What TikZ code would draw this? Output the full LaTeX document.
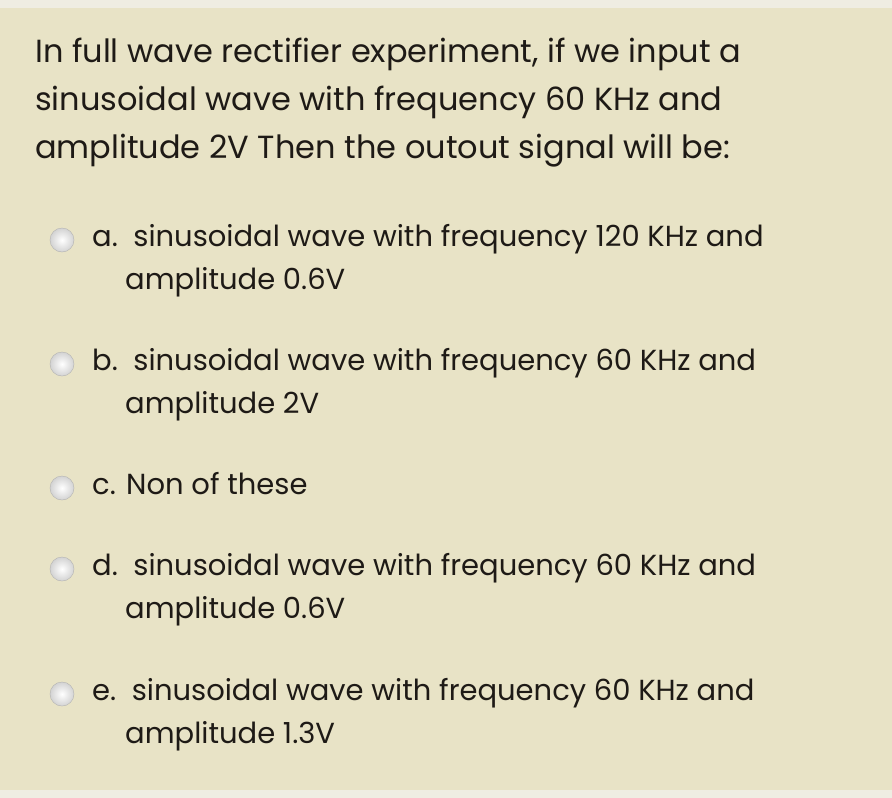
\documentclass[tikz,border=0pt]{standalone}
\usepackage{fontspec}
\setmainfont{Poppins}
\definecolor{bg}{HTML}{E8E3C6}
\definecolor{strip}{HTML}{EFEDE2}
\definecolor{txt}{HTML}{1E1A16}
\tikzset{q/.style={anchor=base west,inner sep=0pt,text=txt,font=\fontsize{32}{36}\selectfont},
opt/.style={anchor=base west,inner sep=0pt,text=txt,font=\fontsize{29}{32}\selectfont},
radio/.style={circle,minimum size=24pt,inner sep=0pt,draw=gray!60,shading=radial,inner color=white,outer color=gray!35}}
\begin{document}
\begin{tikzpicture}[x=1pt,y=-1pt]
\fill[strip] (0,0) rectangle (892,798);
\fill[bg] (0,8) rectangle (892,790);
\useasboundingbox (0,0) rectangle (892,798);
\node[q] (q1) at (35,62) {In full wave rectifier experiment, if we input a};
\node[q] (q2) at (35,110) {sinusoidal wave with frequency 60 KHz and};
\node[q] (q3) at (35,158) {amplitude 2V Then the outout signal will be:};
\node[radio] (ra) at (62,240) {};
\node[opt] (a1) at (92,246) {a.\ \ sinusoidal wave with frequency 120 KHz and};
\node[opt] (a2) at (125,289) {amplitude 0.6V};
\node[radio] (rb) at (62,364) {};
\node[opt] (b1) at (92,370) {b.\ \ sinusoidal wave with frequency 60 KHz and};
\node[opt] (b2) at (125,413) {amplitude 2V};
\node[radio] (rc) at (62,488) {};
\node[opt] (c1) at (92,494) {c. Non of these};
\node[radio] (rd) at (62,569) {};
\node[opt] (d1) at (92,575) {d.\ \ sinusoidal wave with frequency 60 KHz and};
\node[opt] (d2) at (125,618) {amplitude 0.6V};
\node[radio] (re) at (62,694) {};
\node[opt] (e1) at (92,700) {e.\ \ sinusoidal wave with frequency 60 KHz and};
\node[opt] (e2) at (125,743) {amplitude 1.3V};
\end{tikzpicture}
\end{document}
